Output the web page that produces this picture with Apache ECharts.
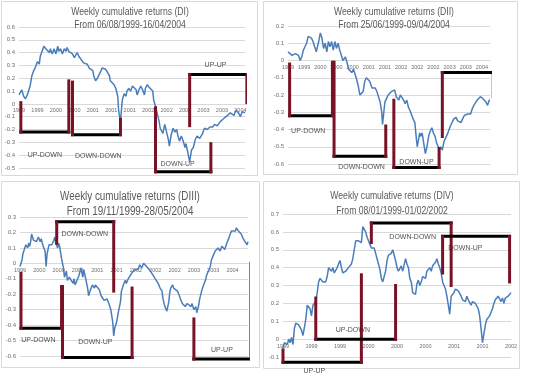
<!DOCTYPE html>
<html><head><meta charset="utf-8">
<script src="https://cdn.jsdelivr.net/npm/echarts/dist/echarts.min.js"></script>
<style>html,body{margin:0;padding:0;background:#fff}#c{width:560px;height:378px}</style>
</head><body><div id="c"></div>
<script>
// ---------- DATA (x = week index from the first observation, y = cumulative return) ----------
const diTicks   = ['1999','1999','2000','2000','2001','2001','2001','2002','2002','2002','2003','2003','2004'];
const diiTicks  = ['1999','1999','2000','2000','2000','2001','2001','2002','2002','2002','2003','2003','2004'];
const diiiTicks = ['1999','2000','2000','2001','2001','2001','2002','2002','2002','2003','2003','2004'];
const divTicks  = ['1999','1999','1999','2000','2000','2000','2001','2001','2002'];

const diData = [[0,0.07],[3,0.11],[5,0.06],[7,0.04],[9,0.07],[12,0.14],[14,0.22],[16,0.26],[18,0.29],[20,0.33],[22,0.31],[23,0.37],[25,0.41],[27,0.45],[29,0.43],[31,0.44],[33,0.40],[34,0.43],[36,0.39],[38,0.43],[40,0.39],[42,0.45],[43,0.41],[45,0.43],[47,0.39],[49,0.43],[51,0.41],[52,0.44],[54,0.41],[56,0.40],[58,0.39],[60,0.36],[61,0.37],[63,0.40],[65,0.37],[67,0.35],[69,0.36],[70,0.32],[72,0.33],[74,0.31],[76,0.28],[78,0.29],[80,0.26],[81,0.22],[83,0.18],[85,0.20],[87,0.23],[89,0.26],[90,0.28],[92,0.29],[94,0.27],[96,0.26],[98,0.22],[99,0.18],[101,0.19],[103,0.15],[105,0.12],[107,0.06],[108,-0.05],[110,-0.14],[111,-0.05],[112,0.03],[114,0.08],[116,0.06],[117,0.10],[119,0.12],[121,0.10],[123,0.14],[125,0.15],[127,0.11],[128,0.07],[130,0.11],[132,0.14],[134,0.11],[136,0.07],[137,0.12],[139,0.15],[141,0.13],[143,0.14],[145,0.10],[146,0.03],[148,-0.02],[150,-0.08],[152,-0.14],[153,-0.19],[155,-0.18],[156,-0.23],[158,-0.16],[160,-0.22],[162,-0.28],[163,-0.33],[165,-0.24],[167,-0.19],[169,-0.22],[171,-0.20],[172,-0.24],[174,-0.29],[176,-0.25],[178,-0.29],[180,-0.34],[181,-0.31],[183,-0.38],[185,-0.45],[187,-0.36],[189,-0.34],[191,-0.28],[193,-0.25],[196,-0.27],[199,-0.23],[201,-0.19],[204,-0.20],[207,-0.18],[210,-0.18],[212,-0.16],[215,-0.17],[218,-0.14],[221,-0.12],[223,-0.13],[226,-0.09],[229,-0.07],[231,-0.06],[233,-0.09],[235,-0.05],[238,-0.07],[240,-0.10],[242,-0.06],[245,-0.07]];

const diiData = [[0,0.05],[2,0.06],[5,0.03],[7,0.02],[9,0.04],[11,0.05],[13,0.03],[15,0.0],[17,0.02],[19,0.06],[21,0.08],[23,0.10],[25,0.14],[27,0.15],[29,0.13],[31,0.11],[33,0.08],[35,0.05],[38,0.11],[40,0.16],[42,0.13],[44,0.07],[46,0.10],[48,0.05],[50,0.11],[52,0.08],[54,0.11],[56,0.06],[58,0.11],[60,0.07],[62,0.10],[64,0.06],[66,0.03],[68,0.0],[71,0.02],[73,-0.01],[75,-0.05],[77,-0.04],[79,-0.07],[81,-0.05],[83,-0.08],[85,-0.11],[87,-0.15],[89,-0.20],[91,-0.21],[93,-0.18],[95,-0.12],[97,-0.10],[99,-0.09],[101,-0.12],[104,-0.16],[106,-0.17],[108,-0.16],[110,-0.18],[112,-0.21],[114,-0.24],[116,-0.30],[117,-0.37],[119,-0.28],[120,-0.24],[122,-0.23],[124,-0.20],[126,-0.21],[128,-0.18],[130,-0.19],[132,-0.17],[134,-0.21],[137,-0.23],[139,-0.20],[141,-0.19],[143,-0.23],[145,-0.25],[147,-0.23],[149,-0.27],[151,-0.29],[153,-0.28],[155,-0.34],[157,-0.36],[159,-0.46],[160,-0.50],[163,-0.42],[164,-0.44],[166,-0.42],[168,-0.48],[170,-0.54],[172,-0.50],[174,-0.44],[176,-0.41],[178,-0.39],[180,-0.42],[182,-0.44],[184,-0.48],[186,-0.50],[187,-0.52],[189,-0.50],[191,-0.52],[193,-0.47],[195,-0.48],[197,-0.43],[199,-0.42],[201,-0.38],[203,-0.37],[205,-0.34],[208,-0.33],[210,-0.35],[212,-0.35],[214,-0.36],[216,-0.34],[218,-0.32],[220,-0.33],[222,-0.31],[224,-0.30],[226,-0.31],[228,-0.28],[230,-0.26],[232,-0.25],[234,-0.23],[236,-0.22],[238,-0.21],[241,-0.22],[243,-0.21],[245,-0.24],[247,-0.26],[249,-0.23],[250,-0.23]];

const diiiData = [[0,-0.02],[2,0.02],[3,0.06],[4,0.05],[5,0.10],[6,0.12],[8,0.10],[9,0.13],[10,0.11],[11,0.14],[12,0.19],[14,0.15],[16,0.16],[17,0.14],[19,0.17],[21,0.14],[22,0.16],[24,0.11],[26,0.08],[27,-0.02],[28,0.06],[30,0.12],[31,0.13],[33,0.12],[35,0.15],[36,0.17],[37,0.13],[39,0.10],[40,0.13],[41,0.11],[43,0.03],[45,-0.03],[46,-0.09],[48,-0.05],[49,-0.11],[51,-0.09],[52,-0.10],[55,-0.13],[56,-0.10],[57,-0.14],[59,-0.11],[61,-0.08],[63,-0.03],[65,-0.09],[66,-0.04],[68,-0.10],[70,-0.16],[71,-0.21],[73,-0.17],[75,-0.14],[77,-0.16],[78,-0.14],[80,-0.15],[82,-0.17],[84,-0.21],[85,-0.22],[87,-0.24],[89,-0.25],[90,-0.23],[92,-0.26],[94,-0.30],[96,-0.38],[97,-0.47],[98,-0.42],[100,-0.38],[102,-0.31],[104,-0.25],[105,-0.18],[107,-0.14],[109,-0.11],[110,-0.13],[112,-0.10],[114,-0.09],[116,-0.06],[117,-0.05],[119,-0.04],[121,-0.03],[122,-0.04],[124,-0.01],[126,-0.03],[128,0.0],[129,0.01],[131,-0.02],[133,-0.03],[135,-0.05],[136,-0.04],[138,-0.08],[140,-0.10],[141,-0.09],[143,-0.13],[145,-0.16],[147,-0.18],[148,-0.23],[150,-0.28],[152,-0.31],[154,-0.25],[155,-0.19],[156,-0.16],[158,-0.14],[159,-0.16],[161,-0.17],[163,-0.18],[165,-0.21],[166,-0.23],[168,-0.26],[170,-0.27],[171,-0.28],[173,-0.26],[175,-0.27],[177,-0.28],[178,-0.26],[180,-0.30],[182,-0.28],[183,-0.32],[185,-0.27],[186,-0.23],[188,-0.18],[190,-0.14],[192,-0.11],[193,-0.08],[195,-0.05],[197,-0.02],[198,0.02],[200,0.05],[202,0.08],[204,0.09],[205,0.10],[207,0.08],[209,0.11],[210,0.10],[212,0.09],[214,0.13],[216,0.16],[217,0.18],[219,0.21],[221,0.22],[223,0.21],[224,0.23],[226,0.21],[228,0.22],[229,0.19],[231,0.16],[233,0.15],[235,0.12],[236,0.14]];

const divData = [[0,-0.05],[1,-0.02],[3,-0.03],[4,0.0],[5,-0.02],[6,0.01],[7,-0.03],[8,0.06],[9,0.09],[10,0.10],[11,0.08],[12,0.09],[13,0.05],[14,0.02],[15,0.01],[16,0.11],[17,0.19],[18,0.20],[19,0.17],[20,0.13],[21,0.19],[22,0.19],[23,0.21],[24,0.26],[25,0.32],[26,0.34],[27,0.33],[28,0.32],[29,0.31],[30,0.32],[31,0.35],[32,0.40],[33,0.39],[34,0.38],[35,0.40],[36,0.37],[37,0.38],[38,0.40],[39,0.42],[40,0.44],[41,0.40],[42,0.37],[43,0.38],[44,0.38],[45,0.39],[46,0.40],[47,0.41],[48,0.42],[49,0.45],[50,0.50],[51,0.55],[52,0.56],[53,0.55],[54,0.56],[55,0.54],[56,0.63],[57,0.62],[58,0.60],[59,0.57],[60,0.55],[61,0.53],[62,0.51],[63,0.52],[64,0.51],[65,0.48],[66,0.45],[67,0.42],[68,0.39],[69,0.34],[70,0.32],[71,0.31],[72,0.38],[73,0.44],[74,0.47],[75,0.47],[76,0.48],[77,0.50],[78,0.49],[79,0.44],[80,0.40],[81,0.38],[82,0.39],[83,0.41],[84,0.38],[85,0.38],[86,0.45],[87,0.42],[88,0.40],[89,0.34],[90,0.32],[91,0.26],[92,0.26],[93,0.25],[94,0.31],[95,0.33],[96,0.30],[97,0.32],[98,0.35],[99,0.35],[100,0.34],[101,0.38],[102,0.37],[103,0.40],[104,0.38],[105,0.41],[106,0.42],[107,0.43],[108,0.45],[109,0.42],[110,0.40],[111,0.37],[112,0.32],[113,0.30],[114,0.28],[115,0.24],[116,0.23],[117,0.14],[118,0.24],[119,0.24],[120,0.26],[121,0.28],[122,0.28],[123,0.27],[124,0.26],[125,0.24],[126,0.22],[127,0.23],[128,0.21],[129,0.24],[130,0.22],[131,0.21],[132,0.19],[133,0.21],[134,0.20],[135,0.20],[136,0.19],[137,0.17],[138,0.13],[139,0.06],[140,-0.02],[141,0.03],[142,0.08],[143,0.11],[144,0.12],[145,0.13],[146,0.15],[147,0.17],[148,0.20],[149,0.22],[150,0.23],[151,0.24],[152,0.23],[153,0.21],[154,0.23],[155,0.20],[156,0.23],[157,0.23],[158,0.24],[159,0.23],[160,0.26]];

// Brackets: [weekLeft, weekRight, levelOfBar, leftEnd, rightEnd]
const diBrackets   = [[2,54,-0.22,0.01,0.18],[58,110,-0.24,0.17,-0.12],[148,208,-0.53,-0.03,-0.31],[185,247,0.23,-0.17,0.01]];
const diiBrackets  = [[2,55,-0.32,-0.02,-0.01],[57,121,-0.555,-0.01,-0.38],[131,187,-0.62,-0.23,-0.51],[191,254,-0.07,-0.44,-0.21]];
const diiiBrackets = [[1,43,-0.42,-0.065,-0.15],[38,97,0.27,0.13,-0.18],[44,116,-0.61,-0.15,-0.16],[180,239,-0.62,-0.36,0.0]];
const divBrackets  = [[0,55,-0.13,-0.06,0.36],[23,79,0.0,0.23,0.30],[62,118,0.65,0.54,0.30],[112,159,0.575,0.37,0.32]];

// Bracket captions: [text, week, value]
const diCaptions   = [['UP-DOWN',28,-0.40],['DOWN-DOWN',86,-0.41],['DOWN-UP',172,-0.47],['UP-UP',213,0.30]];
const diiCaptions  = [['UP-DOWN',25,-0.41],['DOWN-DOWN',91,-0.62],['DOWN-UP',159,-0.59]];
const diiiCaptions = [['UP-DOWN',19,-0.50],['DOWN-DOWN',67,0.19],['DOWN-UP',78,-0.51],['UP-UP',209,-0.56]];
const divCaptions  = [['UP-UP',22,-0.18],['UP-DOWN',49,0.05],['DOWN-DOWN',91,0.57],['DOWN-UP',128,0.51]];

const titles    = ['Weekly cumulative returns (DI)','Weekly cumulative returns (DII)','Weekly cumulative returns (DIII)','Weekly cumulative returns (DIV)'];
const subtitles = ['From 06/08/1999-16/04/2004','From 25/06/1999-09/04/2004','From 19/11/1999-28/05/2004','From 08/01/1999-01/02/2002'];
const weekCounts = [245, 250, 236, 160];
const yMins = [-0.5, -0.6, -0.6, -0.1];
const yMaxs = [0.6, 0.2, 0.3, 0.7];

// ---------- LAYOUT / STYLE ----------
const FONT = "'Liberation Sans',Arial,sans-serif";
const grids = [
  {left:19, top:27, width:226, height:141},
  {left:288, top:26, width:202, height:138},
  {left:20, top:217, width:228, height:139},
  {left:283, top:214, width:228, height:143}
];
const titleLayout = [
  {x:130, y1:12, y2:25, size:10.5},
  {x:394, y1:12, y2:25, size:10.5},
  {x:130, y1:197, y2:212, size:12},
  {x:392, y1:196, y2:211, size:10.5}
];
const frames = [[1.5,1.5,256,174],[263.5,1.5,254,173],[1.5,181.5,258,186],[263.5,181.5,256,187]];
const BLUE = '#4a7ebb', MAROON = '#7a1226', GRID = '#d9d9d9', LABEL = '#6f6f6f';

const allData = [diData, diiData, diiiData, divData];
const allTicks = [diTicks, diiTicks, diiiTicks, divTicks];
const allBrackets = [diBrackets, diiBrackets, diiiBrackets, divBrackets];
const allCaptions = [diCaptions, diiCaptions, diiiCaptions, divCaptions];

const xAxes = [], yAxes = [], series = [], graphics = [];
for (let i = 0; i < 4; i++) {
  const ticks = allTicks[i];
  const g = grids[i];
  // the category axis crosses the value axis at zero, as in the source chart
  const zeroOffset = -g.height * (0 - yMins[i]) / (yMaxs[i] - yMins[i]);
  xAxes.push({
    type:'value', gridIndex:i, min:0, max:weekCounts[i], interval:20, offset:zeroOffset,
    axisLine:{show:true, onZero:false, lineStyle:{color:GRID, width:1}},
    axisTick:{show:false}, splitLine:{show:false},
    axisLabel:{show:true, fontSize:5.5, color:LABEL, fontFamily:FONT, margin:4,
      showMinLabel:true, showMaxLabel:true,
      formatter: v => { const k = Math.round(v/20); return Math.abs(v - k*20) < 1e-6 && ticks[k] ? ticks[k] : ''; }}
  });
  yAxes.push({
    type:'value', gridIndex:i, min:yMins[i], max:yMaxs[i], interval:0.1,
    axisLine:{show:false}, axisTick:{show:false},
    splitLine:{show:true, lineStyle:{color:GRID, width:1}},
    axisLabel:{fontSize:6, color:LABEL, fontFamily:FONT, margin:4,
      formatter: v => Math.abs(v) < 1e-9 ? '0' : v.toFixed(1)}
  });
  series.push({
    type:'line', xAxisIndex:i, yAxisIndex:i, data:allData[i], symbol:'none',
    lineStyle:{color:BLUE, width:1.5}, z:3, silent:true
  });
  allBrackets[i].forEach(b => {
    const [xl, xr, lvl, le, re] = b;
    const seg = (pts, color) => series.push({
      type:'line', xAxisIndex:i, yAxisIndex:i, data:pts, symbol:'none', clip:false,
      lineStyle:{color, width:3, cap:'square'}, z:4, silent:true
    });
    seg([[xl,lvl],[xr,lvl]], '#000000');
    seg([[xl,le],[xl,lvl]], MAROON);
    seg([[xr,re],[xr,lvl]], MAROON);
  });
  series.push({
    type:'scatter', xAxisIndex:i, yAxisIndex:i, symbolSize:0, clip:false, z:5, silent:true,
    data: allCaptions[i].map(c => ({name:c[0], value:[c[1], c[2]]})),
    label:{show:true, position:'inside', formatter:'{b}', fontSize:7, color:'#262626', fontFamily:FONT}
  });
  const t = titleLayout[i];
  [[titles[i], t.y1], [subtitles[i], t.y2]].forEach(([txt, y]) => graphics.push({
    type:'text', x:t.x, y:y, scaleX:0.82, silent:true, z:10,
    style:{text:txt, fill:'#595959', fontSize:t.size, fontFamily:FONT, align:'center', verticalAlign:'middle'}
  }));
  const f = frames[i];
  graphics.push({type:'rect', shape:{x:f[0], y:f[1], width:f[2], height:f[3]},
    style:{fill:null, stroke:GRID, lineWidth:1}, z:-1, silent:true});
}

const chart = echarts.init(document.getElementById('c'), null, {renderer:'canvas'});
chart.setOption({
  animation:false,
  backgroundColor:'#ffffff',
  grid: grids.map(g => Object.assign({containLabel:false}, g)),
  xAxis: xAxes,
  yAxis: yAxes,
  series: series,
  graphic: graphics
});
</script></body></html>
